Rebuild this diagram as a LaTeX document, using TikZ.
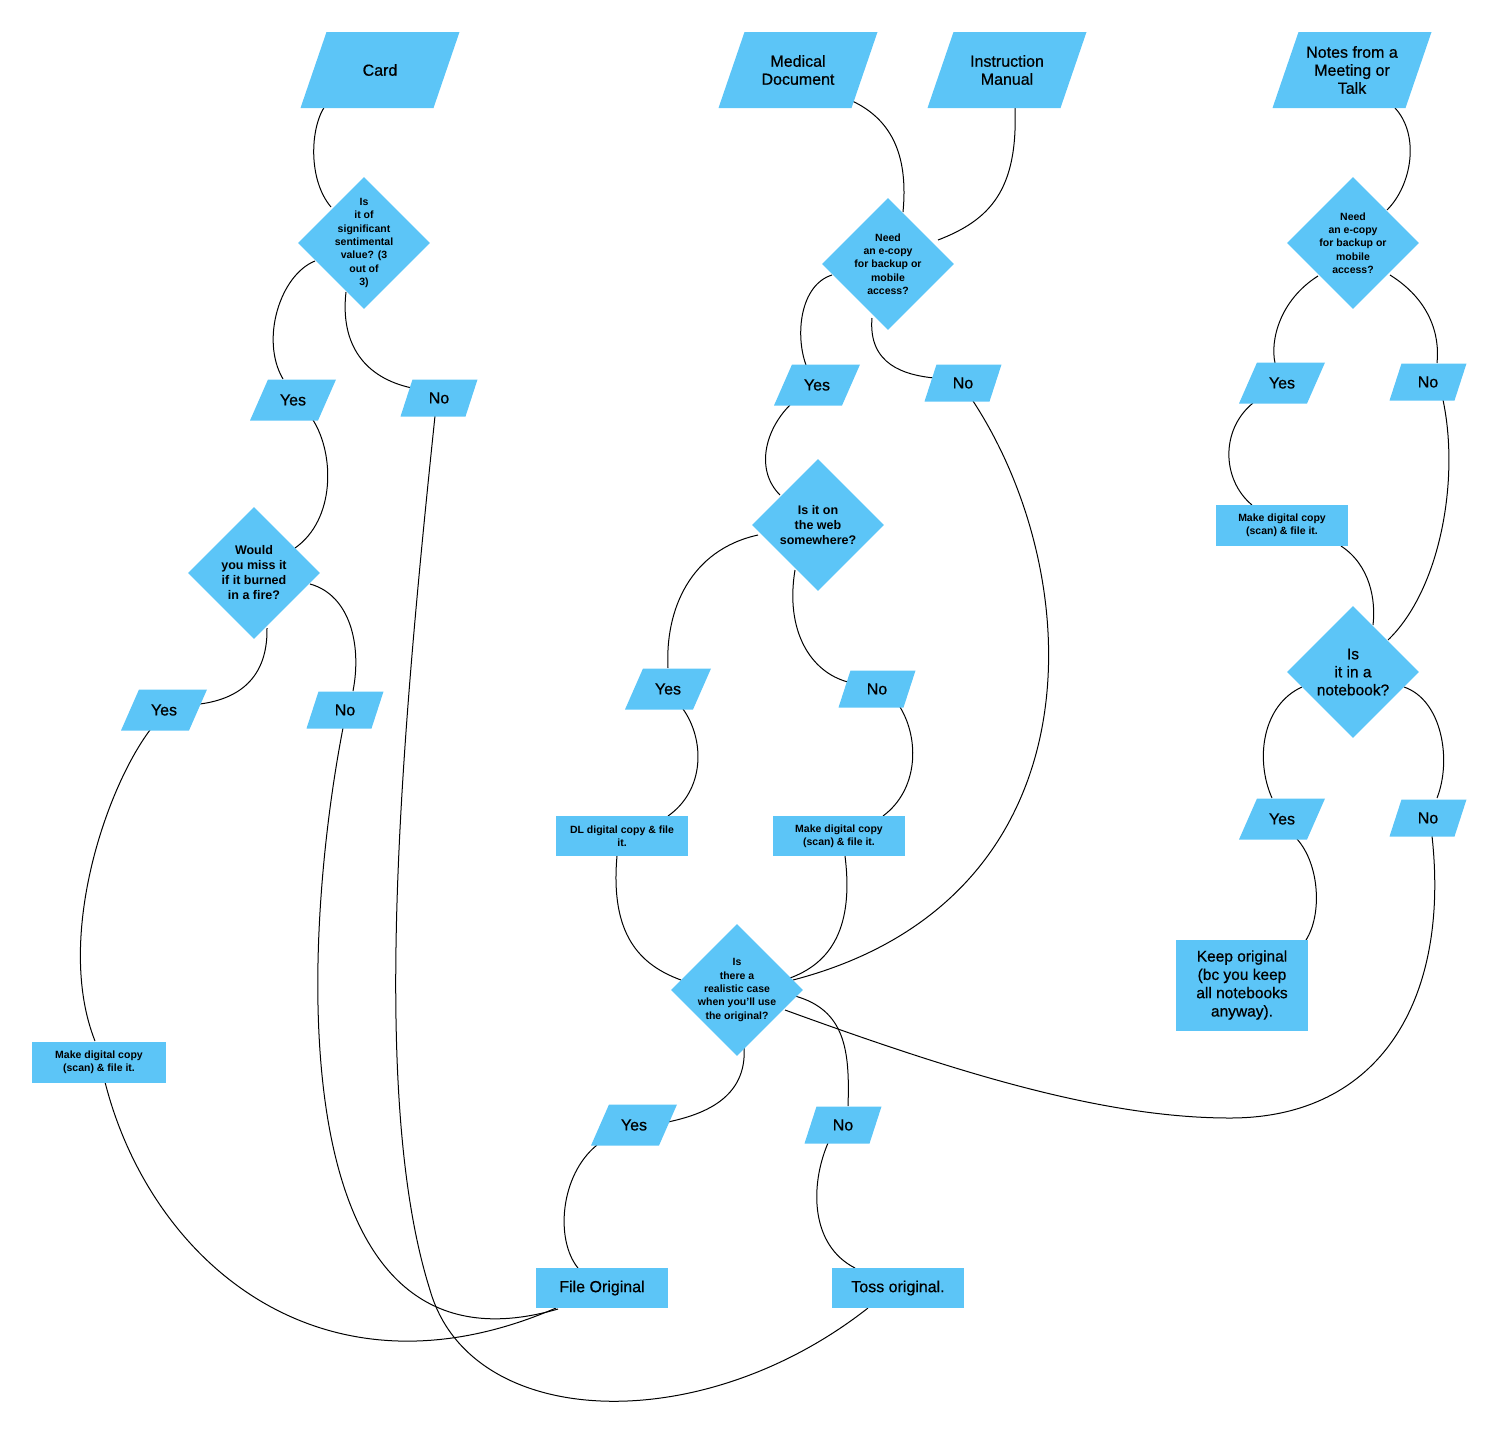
\documentclass[tikz,border=0pt]{standalone}
\usepackage{fontspec}
\setmainfont{Liberation Sans}
\newfontfamily\medfont{Liberation Sans}[FakeBold=0.6]
\usetikzlibrary{shapes.geometric,calc}
\definecolor{nb}{RGB}{92,197,247}
\pgfdeclarelayer{bg}
\pgfsetlayers{bg,main}
\newcommand\plg[7]{%
  \fill[nb] ({#2-#4/2-#6/2},{#3+#5/2}) -- ({#2+#4/2-#6/2},{#3+#5/2}) -- ({#2+#4/2+#6/2},{#3-#5/2}) -- ({#2-#4/2+#6/2},{#3-#5/2}) -- cycle;
  \node[ptext] (#1) at (#2,#3) {#7};}
\begin{document}
\begin{tikzpicture}[x=1pt,y=-1pt,
  ptext/.style={inner sep=0pt,align=center,text=black,font=\medfont\fontsize{16}{18}\selectfont},
  fbig/.style={font=\medfont\fontsize{16}{18}\selectfont},
  fsmall/.style={font=\bfseries\fontsize{10.5}{13.3}\selectfont},
  fmid/.style={font=\bfseries\fontsize{12.5}{15}\selectfont},
  flarge/.style={font=\medfont\fontsize{15.5}{18.3}\selectfont},
  dia/.style={shape=diamond,minimum width=132pt,minimum height=132pt,inner sep=0pt,fill=nb},
  dtext/.style={inner sep=0pt,align=center,text=black},
  rbox/.style={rectangle,fill=nb,minimum width=132pt,minimum height=40pt,inner sep=0pt,align=center,text=black},
  conn/.style={draw=black,line width=1pt}]
\useasboundingbox (0,0) rectangle (1500,1436);

% input parallelograms
\plg{card}{380}{70}{133}{76}{26}{Card}
\plg{med}{798}{70}{133}{76}{26}{Medical\\Document}
\plg{inst}{1007}{70}{133}{76}{26}{Instruction\\Manual}
\plg{notes}{1352}{70}{133}{76}{26}{Notes from a\\Meeting or\\Talk}

% yes / no
\plg{yes1}{293}{400}{68}{41}{18}{Yes}
\plg{no1}{439}{398}{65}{37}{12}{No}
\plg{yes2}{164}{710}{68}{41}{18}{Yes}
\plg{no2}{345}{710}{65}{37}{12}{No}
\plg{yes3}{817}{385}{68}{41}{18}{Yes}
\plg{no3}{963}{383}{65}{37}{12}{No}
\plg{yes4}{668}{689}{68}{41}{18}{Yes}
\plg{no4}{877}{689}{65}{37}{12}{No}
\plg{yes5}{634}{1125}{68}{41}{18}{Yes}
\plg{no5}{843}{1125}{65}{37}{12}{No}
\plg{yes6}{1282}{383}{68}{41}{18}{Yes}
\plg{no6}{1428}{382}{65}{37}{12}{No}
\plg{yes7}{1282}{819}{68}{41}{18}{Yes}
\plg{no7}{1428}{818}{65}{37}{12}{No}

% diamonds
\node[dia] (d1) at (364,243) {};
\node[dtext,fsmall] at (d1) {Is\\it of\\significant\\sentimental\\value? (3\\out of\\3)};
\node[dia] (d2) at (254,573) {};
\node[dtext,fmid] at (d2) {Would\\you miss it\\if it burned\\in a fire?};
\node[dia] (d3) at (888,264) {};
\node[dtext,fsmall] at (d3) {Need\\an e-copy\\for backup or\\mobile\\access?};
\node[dia] (d4) at (818,525) {};
\node[dtext,fmid] at (d4) {Is it on\\the web\\somewhere?};
\node[dia] (d5) at (1353,243) {};
\node[dtext,fsmall] at (d5) {Need\\an e-copy\\for backup or\\mobile\\access?};
\node[dia] (d6) at (1353,672) {};
\node[dtext,font=\medfont\fontsize{15.5}{18}\selectfont] at (d6) {Is\\it in a\\notebook?};
\node[dia] (d7) at (737,990) {};
\node[dtext,fsmall] at (d7) {Is\\there a\\realistic case\\when you'll use\\the original?};

% boxes
\node[rbox,fsmall,minimum width=134pt,minimum height=41pt] (mk1) at (99,1062) {Make digital copy\\(scan) \& file it.};
\node[rbox,fsmall] (dl) at (622,836) {DL digital copy \& file\\it.};
\node[rbox,fsmall] (mk2) at (839,836) {Make digital copy\\(scan) \& file it.};
\node[rbox,fsmall,minimum height=41pt] (mk3) at (1282,525) {Make digital copy\\(scan) \& file it.};
\node[rbox,flarge,minimum height=91pt] (keep) at (1242,985) {Keep original\\(bc you keep\\all notebooks\\anyway).};
\node[rbox,fbig] (file) at (602,1288) {File Original};
\node[rbox,fbig] (toss) at (898,1288) {Toss original.};

\begin{pgfonlayer}{bg}
\draw[conn] ($(card)+(-55,36)$) .. controls (310,128) and (308,180) .. ($(d1)+(-33,-36)$);
\draw[conn] ($(d1)+(-49,18)$) .. controls (280,275) and (260,340) .. ($(yes1)+(-10,-21)$);
\draw[conn] ($(d1)+(-18,49)$) .. controls (340,345) and (365,378) .. ($(no1)+(-27,-10)$);
\draw[conn] ($(yes1)+(20,20)$) .. controls (335,455) and (335,520) .. ($(d2)+(41,-25)$);
\draw[conn] ($(d2)+(13,55)$) .. controls (268,685) and (230,700) .. ($(yes2)+(36,-6)$);
\draw[conn] ($(d2)+(56,11)$) .. controls (350,595) and (362,645) .. ($(no2)+(8,-19)$);
\draw[conn] ($(yes2)+(-14,20)$) .. controls (105,790) and (55,940) .. ($(mk1)+(-4,-21)$);
\draw[conn] ($(mk1)+(6,20)$) .. controls (150,1260) and (320,1410) .. ($(file)+(-46,20)$);
\draw[conn] ($(no2)+(-2,18)$) .. controls (300,950) and (280,1390) .. ($(file)+(-44,21)$);
\draw[conn] ($(no1)+(-4,18)$) .. controls (400,750) and (370,1100) .. (430,1290) .. controls (470,1430) and (700,1440) .. ($(toss)+(-30,20)$);
\draw[conn] ($(med)+(52,30)$) .. controls (895,120) and (908,160) .. ($(d3)+(15,-52)$);
\draw[conn] ($(inst)+(8,38)$) .. controls (1018,190) and (990,220) .. ($(d3)+(50,-24)$);
\draw[conn] ($(d3)+(-56,11)$) .. controls (800,285) and (795,335) .. ($(yes3)+(-11,-20)$);
\draw[conn] ($(d3)+(-16,54)$) .. controls (868,365) and (905,375) .. ($(no3)+(-29,-5)$);
\draw[conn] ($(yes3)+(-27,20)$) .. controls (765,430) and (755,470) .. ($(d4)+(-38,-30)$);
\draw[conn] ($(no3)+(10,18)$) .. controls (1090,580) and (1100,900) .. ($(d7)+(56,-10)$);
\draw[conn] ($(d4)+(-60,10)$) .. controls (690,550) and (665,610) .. ($(yes4)+(0,-21)$);
\draw[conn] ($(d4)+(-23,45)$) .. controls (785,630) and (810,672) .. ($(no4)+(-29,-7)$);
\draw[conn] ($(yes4)+(15,20)$) .. controls (705,740) and (705,790) .. ($(dl)+(46,-20)$);
\draw[conn] ($(no4)+(23,18)$) .. controls (920,740) and (918,790) .. ($(mk2)+(44,-20)$);
\draw[conn] ($(dl)+(-5,20)$) .. controls (610,935) and (640,965) .. ($(d7)+(-56,-10)$);
\draw[conn] ($(mk2)+(6,20)$) .. controls (855,935) and (825,965) .. ($(d7)+(53,-12)$);
\draw[conn] ($(d7)+(7,56)$) .. controls (748,1100) and (700,1115) .. ($(yes5)+(34,-3)$);
\draw[conn] ($(d7)+(58,6)$) .. controls (845,1010) and (850,1050) .. ($(no5)+(5,-19)$);
\draw[conn] ($(d7)+(48,20)$) .. controls (950,1070) and (1100,1118) .. (1230,1118) .. controls (1380,1118) and (1450,1000) .. ($(no7)+(4,18)$);
\draw[conn] ($(yes5)+(-37,20)$) .. controls (560,1175) and (555,1240) .. ($(file)+(-24,-20)$);
\draw[conn] ($(no5)+(-15,18)$) .. controls (810,1185) and (810,1245) .. ($(toss)+(-43,-20)$);
\draw[conn] ($(notes)+(43,38)$) .. controls (1420,135) and (1412,185) .. ($(d5)+(34,-33)$);
\draw[conn] ($(d5)+(-35,33)$) .. controls (1280,300) and (1270,340) .. ($(yes6)+(-7,-20)$);
\draw[conn] ($(d5)+(37,32)$) .. controls (1430,300) and (1440,335) .. ($(no6)+(9,-19)$);
\draw[conn] ($(yes6)+(-29,20)$) .. controls (1220,430) and (1222,480) .. ($(mk3)+(-30,-20)$);
\draw[conn] ($(no6)+(15,18)$) .. controls (1460,480) and (1440,590) .. ($(d6)+(35,-32)$);
\draw[conn] ($(mk3)+(59,21)$) .. controls (1370,565) and (1376,600) .. ($(d6)+(20,-47)$);
\draw[conn] ($(d6)+(-51,15)$) .. controls (1262,705) and (1255,760) .. ($(yes7)+(-10,-21)$);
\draw[conn] ($(d6)+(51,15)$) .. controls (1442,700) and (1452,760) .. ($(no7)+(9,-20)$);
\draw[conn] ($(yes7)+(15,20)$) .. controls (1320,865) and (1322,915) .. ($(keep)+(64,-45)$);
\end{pgfonlayer}
\end{tikzpicture}
\end{document}
